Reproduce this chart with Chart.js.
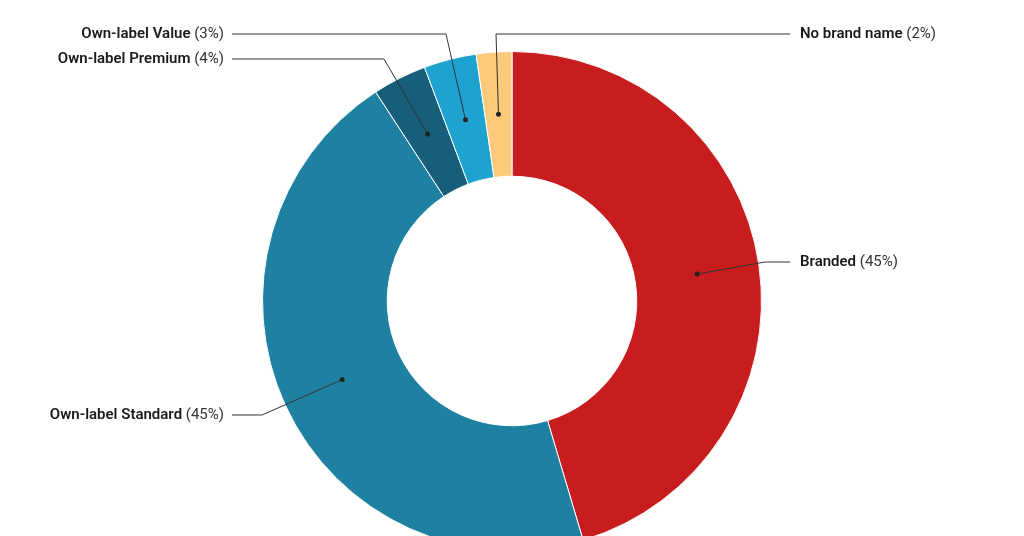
<!DOCTYPE html>
<html><head><meta charset="utf-8">
<script src="https://cdn.jsdelivr.net/npm/chart.js@4"></script>
<style>html,body{margin:0;padding:0;background:#fff;overflow:hidden}#wrap{width:1024px;height:536px;overflow:hidden}</style>
</head><body><div id="wrap"><canvas id="c" width="1024" height="602"></canvas></div>
<script>
const categories = ["Branded", "Own-label Standard", "Own-label Premium", "Own-label Value", "No brand name"];
const shares = [45.4, 45.4, 3.5, 3.4, 2.3];
const shareLabels = ["45%", "45%", "4%", "3%", "2%"];
const colors = ["#c81d1f", "#1e81a1", "#175e7a", "#1ea3d1", "#fdc97a"];
// label layout: elbow point, end x, side
const layout = [
  {ex:765, ey:262, tx:790, side:1},
  {ex:262, ey:415, tx:232, side:-1},
  {ex:384, ey:59, tx:232, side:-1},
  {ex:446, ey:34, tx:232, side:-1},
  {ex:496, ey:34, tx:790, side:1}
];
const labelPlugin = {
  id:'leaders',
  afterDatasetsDraw(chart){
    const ctx = chart.ctx;
    const meta = chart.getDatasetMeta(0);
    meta.data.forEach((arc, i) => {
      const p = arc.getProps(['x','y','startAngle','endAngle','innerRadius','outerRadius'], true);
      const a = (p.startAngle + p.endAngle)/2;
      const r = (p.innerRadius + p.outerRadius)/2;
      const dx = p.x + Math.cos(a)*r, dy = p.y + Math.sin(a)*r;
      const L = layout[i];
      ctx.save();
      ctx.strokeStyle = '#333'; ctx.lineWidth = 1;
      ctx.beginPath(); ctx.moveTo(dx,dy); ctx.lineTo(L.ex,L.ey); ctx.lineTo(L.tx,L.ey); ctx.stroke();
      ctx.fillStyle = '#222'; ctx.beginPath(); ctx.arc(dx,dy,2.5,0,Math.PI*2); ctx.fill();
      ctx.textBaseline = 'middle';
      const bold = '600 15px Roboto', norm = '400 15px Roboto';
      ctx.font = bold; const w1 = ctx.measureText(categories[i]).width;
      ctx.font = norm; const t2 = ' (' + shareLabels[i] + ')'; const w2 = ctx.measureText(t2).width;
      let x = L.side > 0 ? L.tx + 10 : L.tx - 8 - w1 - w2;
      ctx.fillStyle = '#1a1a1a';
      ctx.font = bold; ctx.textAlign = 'left'; ctx.fillText(categories[i], x, L.ey);
      ctx.font = norm; ctx.fillStyle = '#333'; ctx.fillText(t2, x + w1, L.ey);
      ctx.restore();
    });
  }
};
new Chart(document.getElementById('c'), {
  type:'doughnut',
  data:{labels:categories, datasets:[{data:shares, backgroundColor:colors, borderColor:'#fff', borderWidth:1}]},
  options:{responsive:false, animation:false, cutout:'50%',
    layout:{padding:{top:51,bottom:51}},
    plugins:{legend:{display:false}, tooltip:{enabled:false}}},
  plugins:[labelPlugin]
});
</script></body></html>
